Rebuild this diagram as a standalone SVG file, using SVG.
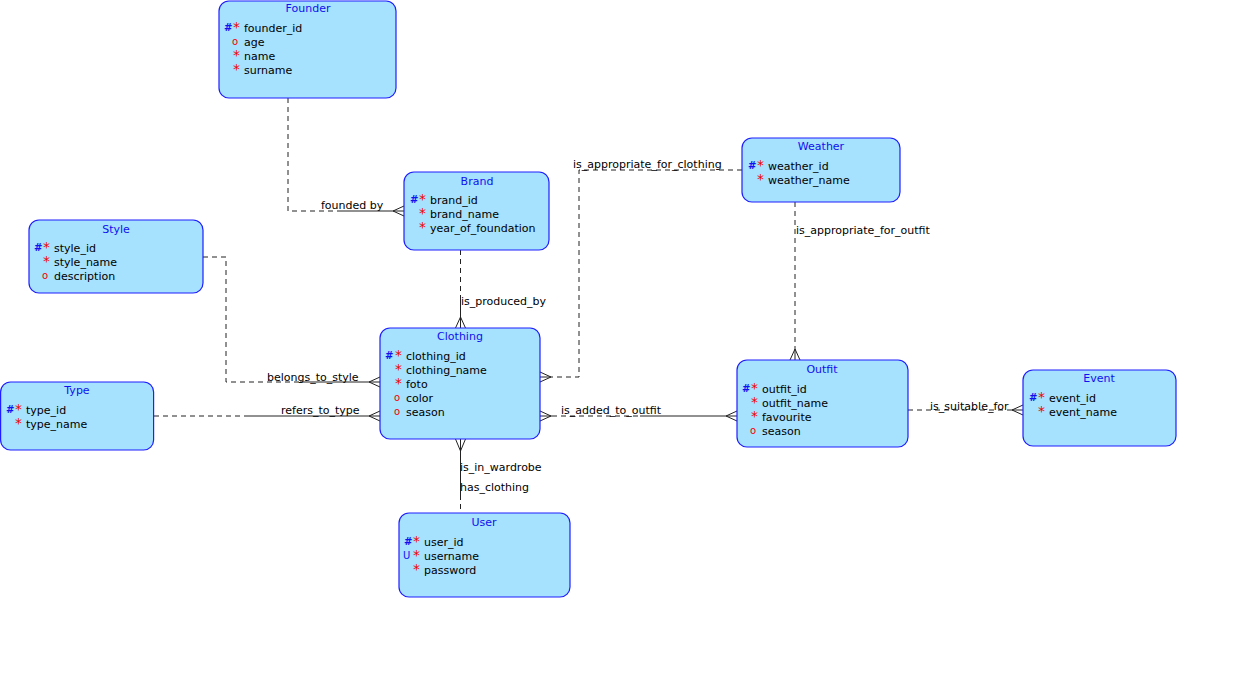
<svg xmlns="http://www.w3.org/2000/svg" width="1238" height="698" viewBox="0 0 1238 698">
<style>
.box{fill:#a6e1fd;stroke:#1e1eff;stroke-width:1.2}
.t{font-family:"DejaVu Sans",Verdana,sans-serif;font-size:11px;fill:#000}
.title{font-family:"DejaVu Sans",Verdana,sans-serif;font-size:11px;fill:#1010f0;text-anchor:middle}
.pk{font-family:"DejaVu Sans",Verdana,sans-serif;font-size:10px;fill:#1010f0;font-weight:bold}
.rq{font-family:"DejaVu Sans",Verdana,sans-serif;font-size:14px;fill:#f00000}
.op{font-family:"DejaVu Sans",Verdana,sans-serif;font-size:10px;fill:#f00000}
.d{fill:none;stroke:#222;stroke-width:1;stroke-dasharray:5,4}
.s{fill:none;stroke:#222;stroke-width:1}
.lbl{font-family:"DejaVu Sans",Verdana,sans-serif;font-size:11px;fill:#000}
</style>
<rect width="1238" height="698" fill="#fff"/>
<g id="connectors">
  <!-- Founder - Brand -->
  <path class="d" d="M288 98 V211 H337"/>
  <path class="s" d="M337 211 H404 M393 211 L404 206 M393 211 L404 216"/>
  <text class="lbl" x="321" y="209">founded by</text>
  <!-- Brand - Clothing -->
  <path class="d" d="M460.5 250 V298"/>
  <path class="s" d="M460.5 298 V328 M460.5 317 L455.5 328 M460.5 317 L465.5 328"/>
  <text class="lbl" x="461" y="305">is_produced_by</text>
  <!-- Style - Clothing -->
  <path class="d" d="M203 257 H226 V382 H300"/>
  <path class="s" d="M300 382 H380 M369 382 L380 377 M369 382 L380 387"/>
  <text class="lbl" x="267" y="381">belongs_to_style</text>
  <!-- Type - Clothing -->
  <path class="d" d="M154 416 H245"/>
  <path class="s" d="M245 416 H380 M369 416 L380 411 M369 416 L380 421"/>
  <text class="lbl" x="281" y="414">refers_to_type</text>
  <!-- Weather - Clothing -->
  <path class="d" d="M742 170 H579 V377 H552"/>
  <path class="s" d="M552 377 H540 M551 377 L540 372 M551 377 L540 382"/>
  <text class="lbl" x="573" y="168">is_appropriate_for_clothing</text>
  <!-- Weather - Outfit -->
  <path class="d" d="M795 202 V348"/>
  <path class="s" d="M795 348 V360 M795 349 L790 360 M795 349 L800 360"/>
  <text class="lbl" x="796" y="234">is_appropriate_for_outfit</text>
  <!-- Clothing - Outfit -->
  <path class="s" d="M540 416 H552 M551 416 L540 411 M551 416 L540 421"/>
  <path class="d" d="M552 416 H640"/>
  <path class="s" d="M640 416 H737 M726 416 L737 411 M726 416 L737 421"/>
  <text class="lbl" x="561" y="414">is_added_to_outfit</text>
  <!-- Outfit - Event -->
  <path class="d" d="M908 410 H1012"/>
  <path class="s" d="M1012 410 H1023 M1012 410 L1023 405 M1012 410 L1023 415"/>
  <text class="lbl" x="930" y="410">is_suitable_for</text>
  <!-- Clothing - User -->
  <path class="s" d="M460.5 439 V495 M460.5 451 L455.5 439 M460.5 451 L465.5 439"/>
  <path class="d" d="M460.5 495 V513"/>
  <text class="lbl" x="460" y="471">is_in_wardrobe</text>
  <text class="lbl" x="460" y="491">has_clothing</text>
</g>
<g id="founder">
  <rect class="box" x="219" y="1" width="177" height="97" rx="10"/>
  <text class="title" x="308" y="12">Founder</text>
  <text class="pk" x="224" y="31">#</text><text class="rq" x="233" y="32">*</text><text class="t" x="244" y="32">founder_id</text>
  <text class="op" x="232" y="45">o</text><text class="t" x="244" y="46">age</text>
  <text class="rq" x="233" y="60">*</text><text class="t" x="244" y="60">name</text>
  <text class="rq" x="233" y="74">*</text><text class="t" x="244" y="74">surname</text>
</g>
<g id="brand">
  <rect class="box" x="404" y="172" width="145" height="78" rx="10"/>
  <text class="title" x="477" y="185">Brand</text>
  <text class="pk" x="410" y="203">#</text><text class="rq" x="419" y="204">*</text><text class="t" x="430" y="204">brand_id</text>
  <text class="rq" x="419" y="218">*</text><text class="t" x="430" y="218">brand_name</text>
  <text class="rq" x="419" y="232">*</text><text class="t" x="430" y="232">year_of_foundation</text>
</g>
<g id="style">
  <rect class="box" x="29" y="220" width="174" height="73" rx="10"/>
  <text class="title" x="116" y="233">Style</text>
  <text class="pk" x="34" y="251">#</text><text class="rq" x="43" y="252">*</text><text class="t" x="54" y="252">style_id</text>
  <text class="rq" x="43" y="266">*</text><text class="t" x="54" y="266">style_name</text>
  <text class="op" x="42" y="279">o</text><text class="t" x="54" y="280">description</text>
</g>
<g id="clothing">
  <rect class="box" x="380" y="328" width="160" height="111" rx="10"/>
  <text class="title" x="460" y="340">Clothing</text>
  <text class="pk" x="385" y="359">#</text><text class="rq" x="395" y="360">*</text><text class="t" x="406" y="360">clothing_id</text>
  <text class="rq" x="395" y="374">*</text><text class="t" x="406" y="374">clothing_name</text>
  <text class="rq" x="395" y="388">*</text><text class="t" x="406" y="388">foto</text>
  <text class="op" x="394" y="401">o</text><text class="t" x="406" y="402">color</text>
  <text class="op" x="394" y="415">o</text><text class="t" x="406" y="416">season</text>
</g>
<g id="type">
  <rect class="box" x="0.6" y="382" width="153" height="68" rx="10"/>
  <text class="title" x="77" y="394">Type</text>
  <text class="pk" x="6" y="413">#</text><text class="rq" x="15" y="414">*</text><text class="t" x="26" y="414">type_id</text>
  <text class="rq" x="15" y="428">*</text><text class="t" x="26" y="428">type_name</text>
</g>
<g id="user">
  <rect class="box" x="399" y="513" width="171" height="84" rx="10"/>
  <text class="title" x="484" y="526">User</text>
  <text class="pk" x="404" y="545">#</text><text class="rq" x="413" y="546">*</text><text class="t" x="424" y="546">user_id</text>
  <text class="pk" x="403" y="559" style="font-weight:normal">U</text><text class="rq" x="413" y="560">*</text><text class="t" x="424" y="560">username</text>
  <text class="rq" x="413" y="574">*</text><text class="t" x="424" y="574">password</text>
</g>
<g id="weather">
  <rect class="box" x="742" y="138" width="158" height="64" rx="10"/>
  <text class="title" x="821" y="150">Weather</text>
  <text class="pk" x="748" y="169">#</text><text class="rq" x="757" y="170">*</text><text class="t" x="768" y="170">weather_id</text>
  <text class="rq" x="757" y="184">*</text><text class="t" x="768" y="184">weather_name</text>
</g>
<g id="outfit">
  <rect class="box" x="737" y="360" width="171" height="87" rx="10"/>
  <text class="title" x="822" y="373">Outfit</text>
  <text class="pk" x="742" y="392">#</text><text class="rq" x="751" y="393">*</text><text class="t" x="762" y="393">outfit_id</text>
  <text class="rq" x="751" y="407">*</text><text class="t" x="762" y="407">outfit_name</text>
  <text class="rq" x="751" y="421">*</text><text class="t" x="762" y="421">favourite</text>
  <text class="op" x="750" y="434">o</text><text class="t" x="762" y="435">season</text>
</g>
<g id="event">
  <rect class="box" x="1023" y="370" width="153" height="76" rx="10"/>
  <text class="title" x="1099" y="382">Event</text>
  <text class="pk" x="1029" y="401">#</text><text class="rq" x="1038" y="402">*</text><text class="t" x="1049" y="402">event_id</text>
  <text class="rq" x="1038" y="416">*</text><text class="t" x="1049" y="416">event_name</text>
</g>
</svg>
